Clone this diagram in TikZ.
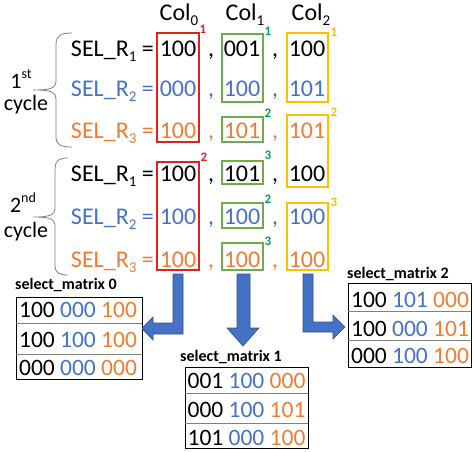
\documentclass[tikz,border=0pt]{standalone}
\usepackage{fontspec}
\setmainfont{Carlito}
\definecolor{tblue}{HTML}{4472C4}
\definecolor{torange}{HTML}{ED7D31}
\definecolor{bred}{HTML}{E0201B}
\definecolor{bgreen}{HTML}{70AD47}
\definecolor{sgreen}{HTML}{00A05A}
\definecolor{byellow}{HTML}{FFC000}
\definecolor{adark}{HTML}{2F528F}
\newcommand\lsub[1]{\raisebox{-0.22em}{\fontsize{15}{15}\selectfont #1}}
\newcommand\lsup[1]{\raisebox{0.42em}{\fontsize{14}{14}\selectfont #1}}
\begin{document}
\begin{tikzpicture}[x=1pt,y=-1pt,
  txt/.style={inner sep=0pt,anchor=base,font=\fontsize{24}{28}\selectfont},
  lbl/.style={inner sep=0pt,anchor=base,font=\fontsize{22}{26}\selectfont},
  mk/.style={inner sep=0pt,font=\bfseries\fontsize{13}{13}\selectfont},
  selbox/.style={line width=1.4pt},
  brace/.style={draw=gray,line width=0.8pt},
  barrow/.style={fill=tblue,draw=adark,line width=0.6pt,line join=miter},
  tabtitle/.style={inner sep=0pt,anchor=base,font=\bfseries\fontsize{16}{18}\selectfont},
  tabrow/.style={inner sep=0pt,anchor=base,font=\fontsize{23.5}{28}\selectfont},
  tabframe/.style={draw=black,line width=1pt},
  tabsep/.style={draw=gray,line width=1pt}]
\path[use as bounding box] (0,0) rectangle (474,451);

% column headers
\node[txt] (c0) at (179,20) {Col\lsub{0}};
\node[txt] (c1) at (245,20) {Col\lsub{1}};
\node[txt] (c2) at (311,20) {Col\lsub{2}};

% rows
\foreach \r/\c/\y/\a/\b/\d in {1/black/56/100/001/100, 2/tblue/96/000/100/101, 3/torange/138/100/101/101, 4/black/181/100/101/100, 5/tblue/224/100/100/100, 6/torange/267/100/100/100}{
  \node[txt,anchor=base east,text=\c] (s\r) at (154,\y) {SEL\_R\lsub{\the\numexpr\ifnum\r>3 \r-3\else\r\fi\relax} =};
  \node[txt,text=\c] (a\r) at (178,\y) {\a};
  \node[txt,text=\c] (k\r) at (211,\y) {,};
  \node[txt,text=\c] (b\r) at (242,\y) {\b};
  \node[txt,text=\c] (l\r) at (275,\y) {,};
  \node[txt,text=\c] (d\r) at (307,\y) {\d};
}

% selection boxes
\draw[selbox,bred] (157,33) rectangle (199,142);
\draw[selbox,bred] (157,162) rectangle (199,270);
\draw[selbox,bgreen] (222,34) rectangle (263,102);
\draw[selbox,bgreen] (222,117) rectangle (263,142);
\draw[selbox,bgreen] (222,161) rectangle (263,184);
\draw[selbox,bgreen] (222,203) rectangle (263,228);
\draw[selbox,bgreen] (222,243) rectangle (263,270);
\draw[selbox,byellow] (287,33) rectangle (328,102);
\draw[selbox,byellow] (287,115) rectangle (328,187);
\draw[selbox,byellow] (287,203) rectangle (328,270);

% box markers
\node[mk,text=bred] (m1) at (203,29) {1};
\node[mk,text=bred] (m2) at (204,157) {2};
\node[mk,text=sgreen] (m3) at (268,31) {1};
\node[mk,text=sgreen] (m4) at (268,113) {2};
\node[mk,text=sgreen] (m5) at (268,155) {3};
\node[mk,text=sgreen] (m6) at (268,199) {2};
\node[mk,text=sgreen] (m7) at (268,241) {3};
\node[mk,text=byellow] (m8) at (334,32) {1};
\node[mk,text=byellow] (m9) at (334,112) {2};
\node[mk,text=byellow] (m10) at (334,202) {3};

% braces
\draw[brace] (72,33) .. controls (61,33) and (56,35) .. (56,45) -- (56,80)
  .. controls (56,88) and (52,90) .. (33,90)
  .. controls (52,90) and (56,92) .. (56,100) -- (56,137)
  .. controls (56,145) and (61,147) .. (72,147);
\draw[brace] (68,158) .. controls (59,158) and (55,160) .. (55,170) -- (55,207)
  .. controls (55,215) and (51,217) .. (33,217)
  .. controls (51,217) and (55,219) .. (55,227) -- (55,265)
  .. controls (55,273) and (59,275) .. (68,275);

% cycle labels
\node[lbl] (cy1a) at (21,88) {1\lsup{st}};
\node[lbl] (cy1b) at (26,110) {cycle};
\node[lbl] (cy2a) at (23,212) {2\lsup{nd}};
\node[lbl] (cy2b) at (26,237) {cycle};

% tables
\node[tabtitle] (t0l) at (66,289) {select\_matrix 0};
\draw[tabframe] (16,297) rectangle (142,379);
\draw[tabsep] (16,323) -- (142,323) (16,354) -- (142,354);
\node[tabrow] (t0a) at (78,317) {100 {\color{tblue}000} {\color{torange}100}};
\node[tabrow] (t0b) at (78,347) {100 {\color{tblue}100} {\color{torange}100}};
\node[tabrow] (t0c) at (78,375) {000 {\color{tblue}000} {\color{torange}000}};

\node[tabtitle] (t1l) at (231,361) {select\_matrix 1};
\draw[tabframe] (185,367) rectangle (308,448);
\draw[tabsep] (185,393) -- (308,393) (185,423) -- (308,423);
\node[tabrow] (t1a) at (246.5,388) {001 {\color{tblue}100} {\color{torange}000}};
\node[tabrow] (t1b) at (246.5,417) {000 {\color{tblue}100} {\color{torange}101}};
\node[tabrow] (t1c) at (246.5,445) {101 {\color{tblue}000} {\color{torange}100}};

\node[tabtitle] (t2l) at (398,278) {select\_matrix 2};
\draw[tabframe] (348,283) rectangle (471,367);
\draw[tabsep] (348,311) -- (471,311) (348,340) -- (471,340);
\node[tabrow] (t2a) at (410,307) {100 {\color{tblue}101} {\color{torange}000}};
\node[tabrow] (t2b) at (410,336) {100 {\color{tblue}000} {\color{torange}101}};
\node[tabrow] (t2c) at (410,363) {000 {\color{tblue}100} {\color{torange}100}};

% block arrows
\draw[barrow] (173,274) -- (183,274) -- (183,334) -- (153,334) -- (153,340) -- (142,328.5)
  -- (153,317) -- (153,323) -- (173,323) -- cycle;
\draw[barrow] (237,274) -- (250,274) -- (250,328) -- (259,328) -- (243,346)
  -- (227,328) -- (237,328) -- cycle;
\draw[barrow] (303,274) -- (313,274) -- (313,322) -- (333,322) -- (333,315) -- (345,327)
  -- (333,339) -- (333,332) -- (303,332) -- cycle;
\end{tikzpicture}
\end{document}
